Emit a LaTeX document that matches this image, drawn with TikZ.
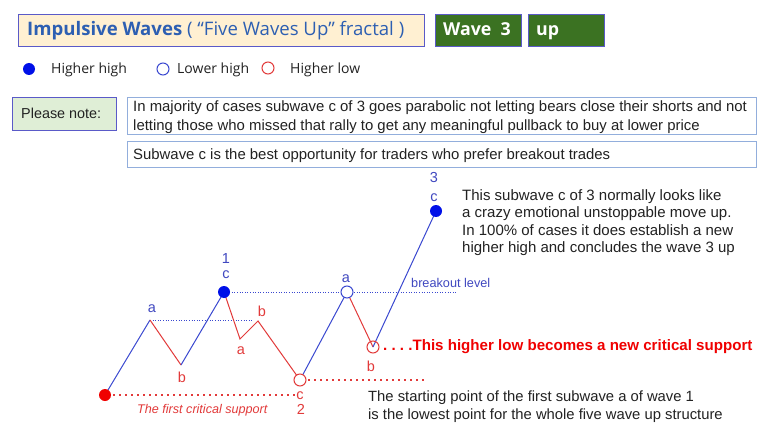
\documentclass[tikz,border=0pt]{standalone}
\usepackage{fontspec}
\setmainfont{Liberation Sans}
\newfontfamily\osans{Open Sans}
\definecolor{tblue}{HTML}{2D5FB2}
\definecolor{tborder}{HTML}{5A5AC8}
\definecolor{cream}{HTML}{FFF0D2}
\definecolor{wgreen}{HTML}{3B7222}
\definecolor{ngreen}{HTML}{DFEED6}
\definecolor{nborder}{HTML}{92AEDC}
\definecolor{wblue}{HTML}{3A48D0}
\definecolor{lblue}{HTML}{4048C0}
\definecolor{dblue}{HTML}{0010E8}
\definecolor{wred}{HTML}{E23A3A}
\definecolor{dred}{HTML}{F00000}
\definecolor{txt}{HTML}{222222}
\begin{document}
\begin{tikzpicture}[x=1pt,y=-1pt,
  bline/.style={draw=wblue, line width=1pt},
  rline/.style={draw=wred, line width=1pt},
  hhdot/.style={circle, fill=dblue, minimum size=12pt, inner sep=0pt},
  startdot/.style={circle, fill=dred, minimum size=12pt, inner sep=0pt},
  lhdot/.style={circle, draw=wblue, fill=white, minimum size=12pt, inner sep=0pt, line width=1pt},
  hldot/.style={circle, draw=wred, fill=white, minimum size=12pt, inner sep=0pt, line width=1pt},
  hlring/.style={circle, draw=wred, minimum size=12pt, inner sep=0pt, line width=1pt},
  bdots/.style={draw=wblue, line width=1pt, dash pattern=on 1pt off 1.6pt},
  rdots/.style={draw=wred, line width=1.6pt, dash pattern=on 1.6pt off 4.4pt},
  blab/.style={text=lblue, font=\fontsize{14.5}{14.5}\selectfont, inner sep=0pt, anchor=base},
  rlab/.style={text=wred, font=\fontsize{14.5}{14.5}\selectfont, inner sep=0pt, anchor=base},
  notebox/.style={draw=nborder, fill=white, line width=1pt, anchor=north west},
  hdr/.style={anchor=base west, inner sep=0pt, font=\osans\fontsize{18.6}{18.6}\selectfont},
  leg/.style={anchor=base west, inner sep=0pt, text=txt, font=\osans\fontsize{14}{14}\selectfont},
  line/.style={anchor=base west, inner sep=0pt, text=txt, font=\fontsize{15}{15}\selectfont},
  body/.style={text=txt, align=left, inner sep=0pt, anchor=north west}
]
\useasboundingbox (0,0) rectangle (768,433);
\fill[white] (0,0) rectangle (768,433);

% header
\node[draw=tborder, fill=cream, line width=1pt, minimum width=406pt, minimum height=32pt, anchor=north west, inner sep=0pt] (title) at (18,14) {};
\node[hdr, text=tblue] (ttext) at (27,36) {\textbf{Impulsive Waves} ( “Five Waves Up” fractal )};
\node[draw=tborder, fill=wgreen, line width=1pt, minimum width=86pt, minimum height=32pt, anchor=north west, inner sep=0pt] (wave) at (435,14) {};
\node[hdr, text=white, font=\osans\bfseries\fontsize{17.8}{17.8}\selectfont] (wavet) at (443,36) {Wave\ \ 3};
\node[draw=tborder, fill=wgreen, line width=1pt, minimum width=76pt, minimum height=32pt, anchor=north west, inner sep=0pt] (up) at (528,14) {};
\node[hdr, text=white, font=\osans\bfseries\fontsize{17.8}{17.8}\selectfont] (upt) at (536,36) {up};

% legend
\node[hhdot] (lg1) at (29,69) {};
\node[leg] (lg1t) at (51,74) {Higher high};
\node[lhdot] (lg2) at (163,69) {};
\node[leg] (lg2t) at (177,74) {Lower high};
\node[hldot] (lg3) at (268,68) {};
\node[leg] (lg3t) at (290,74) {Higher low};

% notes
\node[draw=tborder, fill=ngreen, line width=1pt, minimum width=104pt, minimum height=33pt, anchor=north west, inner sep=0pt] (pn) at (12,97) {};
\node[line, font=\fontsize{14.4}{14.4}\selectfont] (pnt) at (21,119) {Please note:};
\node[notebox, minimum width=629pt, minimum height=37pt, inner sep=0pt] (n1) at (127,97) {};
\node[body, font=\fontsize{14.9}{19}\selectfont] (n1t) at (133,100.5) {In majority of cases subwave c of 3 goes parabolic not letting bears close their shorts and not\\letting those who missed that rally to get any meaningful pullback to buy at lower price};
\node[notebox, minimum width=629pt, minimum height=26pt, inner sep=0pt] (n2) at (127,141) {};
\node[line, font=\fontsize{14.9}{14.9}\selectfont] (n2t) at (133,159.5) {Subwave c is the best opportunity for traders who prefer breakout trades};

% wave points
\coordinate (p0) at (105,395);
\coordinate (pa) at (150,320);
\coordinate (pb) at (181,365);
\coordinate (p1) at (224,292);
\coordinate (qa) at (240,339);
\coordinate (qb) at (258,321);
\coordinate (p2) at (300,380);
\coordinate (ra) at (347,292);
\coordinate (rb) at (373,347);
\coordinate (p3) at (436,211);
\coordinate (e1) at (252,320);
\coordinate (e2) at (456,292);
\coordinate (e3) at (298,395);
\coordinate (e4) at (424,380);
\coordinate (s2) at (308,380);
\coordinate (s0) at (113,395);

% dotted levels
\draw[bdots] (pa) -- (e1);
\draw[bdots] (p1) -- (e2);
\draw[rdots] (s0) -- (e3);
\draw[rdots] (s2) -- (e4);

% wave lines
\draw[bline] (p0) -- (pa);
\draw[rline] (pa) -- (pb);
\draw[bline] (pb) -- (p1);
\draw[rline] (p1) -- (qa) -- (qb) -- (p2);
\draw[bline] (p2) -- (ra);
\draw[rline] (ra) -- (rb);
\draw[bline] (rb) -- (p3);

% markers
\node[startdot] (m0) at (p0) {};
\node[hhdot] (m1) at (p1) {};
\node[hldot] (m2) at (p2) {};
\node[lhdot] (m3) at (ra) {};
\node[hlring] (m4) at (rb) {};
\node[hhdot] (m5) at (p3) {};

% wave labels
\node[blab] (la1) at (152,312) {a};
\node[rlab] (lb1) at (182,382) {b};
\node[blab] (lc1) at (226,278) {c};
\node[blab] (l1) at (226,263) {1};
\node[rlab] (la2) at (241,354) {a};
\node[rlab] (lb2) at (262,316) {b};
\node[rlab] (lc2) at (300,399) {c};
\node[rlab] (l2) at (301,414) {2};
\node[blab] (la3) at (346,282) {a};
\node[rlab] (lb3) at (371,371) {b};
\node[blab] (lc3) at (434,201) {c};
\node[blab] (l3) at (434,182) {3};

% annotations
\node[line, text=lblue, font=\fontsize{12.7}{12.7}\selectfont] (brk) at (411,287.5) {breakout level};
\node[line, text=dred, font=\bfseries\fontsize{15.1}{15.1}\selectfont] (hlt) at (383,350.5) {.\ .\ .\ .This higher low becomes a new critical support};
\node[line, text=wred, font=\itshape\fontsize{12.6}{12.6}\selectfont] (fcs) at (137,413.5) {The first critical support};
\node[body, font=\fontsize{15}{17.3}\selectfont] (c3t) at (462,189.5) {This subwave c of 3 normally looks like\\a crazy emotional unstoppable move up.\\In 100\% of cases it does establish a new\\higher high and concludes the wave 3 up};
\node[body, font=\fontsize{14.8}{18}\selectfont] (c0t) at (368,390.5) {The starting point of the first subwave a of wave 1\\is the lowest point for the whole five wave up structure};
\end{tikzpicture}
\end{document}
